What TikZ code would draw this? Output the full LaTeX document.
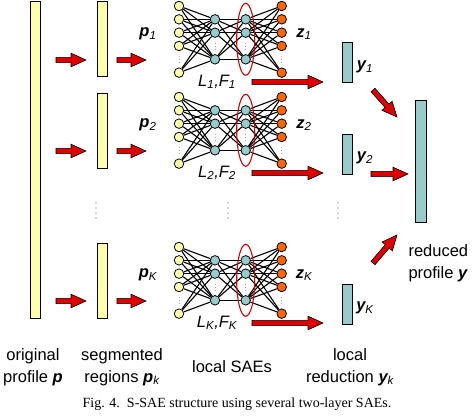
\documentclass[tikz,border=0pt]{standalone}
\usepackage{fontspec}
\setmainfont{Liberation Sans}
\newfontfamily\capfont{Liberation Serif}
\usetikzlibrary{calc,backgrounds}

\definecolor{barYellow}{RGB}{255,255,170}
\definecolor{barTeal}{RGB}{150,204,204}
\definecolor{outOrange}{RGB}{255,102,0}
\definecolor{arrowRed}{RGB}{225,0,0}

% bold italic letter with a light italic index
\newcommand{\vb}[2]{{\bfseries\itshape #1}\textsubscript{\itshape #2}}
% red block arrow from tail #1 to tip #2
\newcommand{\blockarrow}[2]{%
  \coordinate (hb) at ($#2!15pt!#1$);
  \filldraw[fill=arrowRed, draw=black, line width=0.6pt, line join=miter]
    ($#1!2.6pt!90:#2$) -- ($(hb)!2.6pt!90:#2$) -- ($(hb)!6.8pt!90:#2$) -- #2
    -- ($(hb)!6.8pt!-90:#2$) -- ($(hb)!2.6pt!-90:#2$) -- ($#1!2.6pt!-90:#2$) -- cycle;}

\tikzset{
  neuron/.style={circle, draw=black, line width=0.8pt, minimum size=9.5pt, inner sep=0pt},
  inunit/.style={neuron, fill=barYellow},
  hidunit/.style={neuron, fill=barTeal},
  outunit/.style={neuron, fill=outOrange},
  bar/.style={draw=black, line width=1pt, inner sep=0pt, minimum width=10pt},
  synapse/.style={black, line width=1.1pt},
  gap/.style={black!35, dotted, line width=0.8pt},
  lab/.style={font=\fontsize{16.5}{22}\selectfont},
}

\begin{document}
\begin{tikzpicture}[x=1pt,y=-1pt]
  \useasboundingbox (0,0) rectangle (474,420);

  % original profile
  \node[bar, fill=barYellow, minimum height=316pt] (orig) at (35,160) {};

  \foreach \b/\k in {2/1, 93/2, 243/K} {
    % segmented region
    \node[bar, fill=barYellow, minimum height=75pt] (seg\k) at (102,\b+37.5) {};
    \coordinate (sa\k) at (56,\b+58);
    \coordinate (sb\k) at (86,\b+58);
    \blockarrow{(sa\k)}{(sb\k)}
    \coordinate (ta\k) at (117,\b+58);
    \coordinate (tb\k) at (146,\b+58);
    \blockarrow{(ta\k)}{(tb\k)}
    \node[lab] (plab\k) at (148,\b+32) {\vb{p}{\k}};

    % local SAE
    \foreach \r/\n in {0/1,1/2,2/3,3/4,5/5} {
      \node[inunit] (i\k-\n) at (179,\b+4+13.33*\r) {};
      \node[outunit] (o\k-\n) at (281.7,\b+4+13.33*\r) {};
    }
    \foreach \r/\n in {1/1,2/2,4/3} {
      \node[hidunit] (h\k-\n) at (215,\b+4+13.33*\r) {};
      \node[hidunit] (c\k-\n) at (245.7,\b+4+13.33*\r) {};
    }
    \begin{scope}[on background layer]
      \foreach \i in {1,...,5}
        \foreach \j in {1,2,3} {
          \draw[synapse] (i\k-\i) -- (h\k-\j);
          \draw[synapse] (c\k-\j) -- (o\k-\i);
        }
      \foreach \i in {1,2,3}
        \foreach \j in {1,2,3}
          \draw[synapse] (h\k-\i) -- (c\k-\j);
    \end{scope}
    \draw[gap] (179,\b+54) -- (179,\b+60);
    \draw[gap] (281.7,\b+54) -- (281.7,\b+60);
    \draw[gap] (215,\b+41) -- (215,\b+47);
    \draw[gap] (245.7,\b+41) -- (245.7,\b+47);
    \draw[red!85!black, line width=1.1pt] (245.7,\b+37.3) ellipse (9pt and 36pt);
    \node[lab] (zlab\k) at (304,\b+32) {\vb{z}{\k}};
    \node[lab] (LF\k) at (217,\b+80) {\itshape L\textsubscript{\k},F\textsubscript{\k}};
    \coordinate (na\k) at (252,\b+80);
    \coordinate (nb\k) at (323,\b+80);
    \blockarrow{(na\k)}{(nb\k)}

    % local reduction
    \node[bar, fill=barTeal, minimum height=40pt] (ybar\k) at (347,\b+61) {};
    \node[lab] (ylab\k) at (365,\b+65) {\vb{y}{\k}};
  }

  % vertical dots
  \foreach \x in {96,228,338}
    \foreach \d in {0,...,3}
      \fill[black!70] (\x,203+5*\d) circle (0.7pt);

  % reduced profile
  \node[bar, fill=barTeal, minimum width=11pt, minimum height=122pt] (Y) at (420.5,161) {};
  \coordinate (ra1) at (373,90);
  \coordinate (rb1) at (397,117);
  \blockarrow{(ra1)}{(rb1)}
  \coordinate (ra2) at (371,174);
  \coordinate (rb2) at (408,174);
  \blockarrow{(ra2)}{(rb2)}
  \coordinate (raK) at (373,263);
  \coordinate (rbK) at (397,235);
  \blockarrow{(raK)}{(rbK)}
  \node[lab, anchor=west, align=left] (Ylab) at (405,263) {reduced\\profile \textbf{\textit{y}}};

  % bottom captions
  \node[lab, align=center] (cap1) at (33,367) {original\\profile \textbf{\textit{p}}};
  \node[lab, align=center] (cap2) at (122,367) {segmented\\regions \vb{p}{k}};
  \node[lab] (cap3) at (232,367) {local SAEs};
  \node[lab, align=center] (cap4) at (350,367) {local\\reduction \vb{y}{k}};
  \node[font=\capfont\fontsize{14}{16}\selectfont] (fig) at (237,404) {Fig. 4.\ \ S-SAE structure using several two-layer SAEs.};
\end{tikzpicture}
\end{document}
